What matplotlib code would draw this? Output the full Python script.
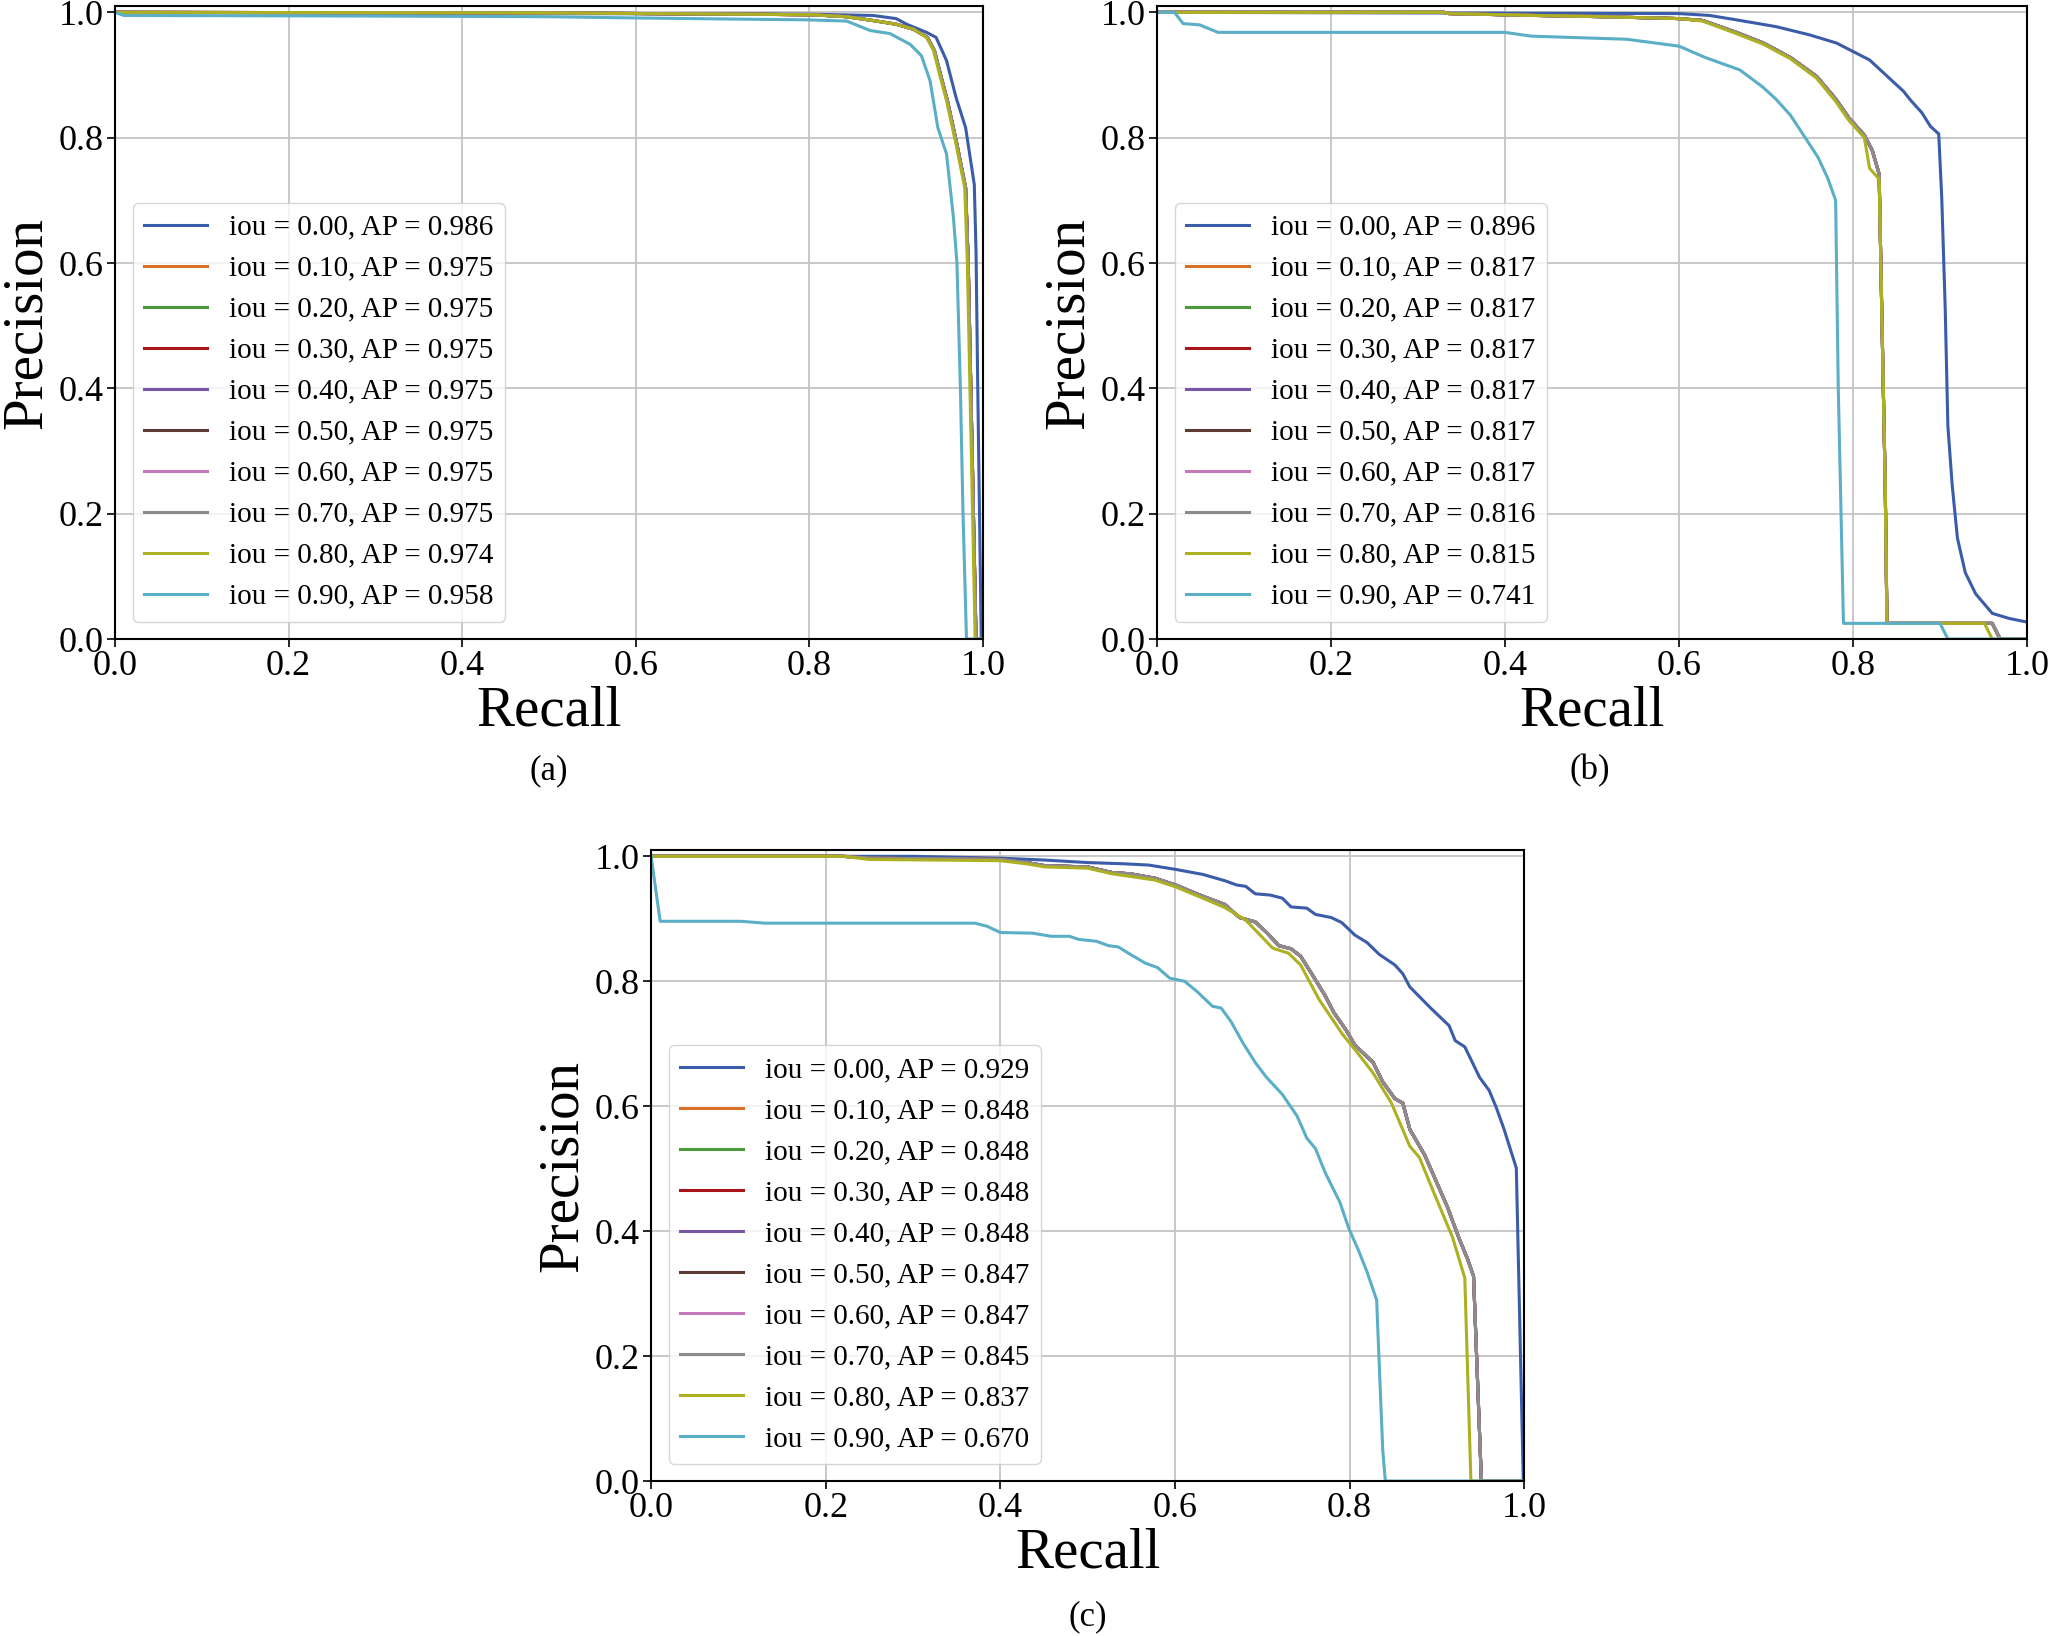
import numpy as np
import matplotlib
matplotlib.use("Agg")
import matplotlib.pyplot as plt

plt.rcParams['font.family'] = ['Liberation Serif', 'DejaVu Serif']

iou_levels = [0.00, 0.10, 0.20, 0.30, 0.40, 0.50, 0.60, 0.70, 0.80, 0.90]
colors = ['#3b5ca8', '#d9702a', '#4c9a3c', '#a8161c', '#7856a8',
          '#5e3b32', '#c478b8', '#8c8c8c', '#adb021', '#5aaec6']

ap_a = [0.986, 0.975, 0.975, 0.975, 0.975, 0.975, 0.975, 0.975, 0.974, 0.958]
ap_b = [0.896, 0.817, 0.817, 0.817, 0.817, 0.817, 0.817, 0.816, 0.815, 0.741]
ap_c = [0.929, 0.848, 0.848, 0.848, 0.848, 0.847, 0.847, 0.845, 0.837, 0.670]

# ---- panel (a) ----
a_blue_r = [0.0, 0.5, 0.8, 0.873, 0.9, 0.912, 0.935, 0.946, 0.958, 0.969, 0.980, 0.990, 0.992, 0.994, 0.996, 0.998, 1.0]
a_blue_p = [1.0, 0.998, 0.997, 0.995, 0.99, 0.981, 0.968, 0.960, 0.923, 0.864, 0.816, 0.725, 0.619, 0.4, 0.2, 0.0, 0.0]
a_mid_r = [0.0, 0.5, 0.728, 0.805, 0.843, 0.873, 0.900, 0.920, 0.936, 0.944, 0.951, 0.959, 0.970, 0.980, 0.983, 0.986, 0.989, 0.992, 1.0]
a_mid_p = [1.0, 0.999, 0.997, 0.996, 0.993, 0.987, 0.981, 0.973, 0.960, 0.939, 0.901, 0.859, 0.789, 0.72, 0.6, 0.4, 0.2, 0.0, 0.0]
a_yel_r = [0.0, 0.5, 0.728, 0.805, 0.843, 0.873, 0.900, 0.920, 0.935, 0.943, 0.950, 0.958, 0.969, 0.979, 0.982, 0.985, 0.988, 0.991, 1.0]
a_yel_p = [1.0, 0.999, 0.997, 0.996, 0.993, 0.987, 0.981, 0.973, 0.960, 0.939, 0.901, 0.859, 0.789, 0.72, 0.6, 0.4, 0.2, 0.0, 0.0]
a_cyan_r = [0.0, 0.01, 0.3, 0.5, 0.6, 0.728, 0.797, 0.843, 0.870, 0.893, 0.916, 0.929, 0.939, 0.948, 0.958, 0.966, 0.970, 0.974, 0.977, 0.981, 1.0]
a_cyan_p = [1.0, 0.995, 0.994, 0.993, 0.991, 0.989, 0.988, 0.986, 0.971, 0.966, 0.949, 0.931, 0.891, 0.816, 0.774, 0.672, 0.6, 0.4, 0.2, 0.0, 0.0]

# ---- panel (b) ----
b_blue_r = [0.0, 0.6, 0.635, 0.666, 0.712, 0.750, 0.781, 0.819, 0.858, 0.866, 0.879, 0.889, 0.8985, 0.902, 0.906, 0.909, 0.914, 0.920, 0.929, 0.941, 0.960, 0.979, 1.0]
b_blue_p = [1.0, 0.998, 0.995, 0.988, 0.977, 0.964, 0.951, 0.924, 0.874, 0.86, 0.84, 0.818, 0.806, 0.703, 0.525, 0.34, 0.245, 0.161, 0.106, 0.072, 0.041, 0.033, 0.027]
b_mid_r = [0.0, 0.33, 0.335, 0.435, 0.512, 0.6, 0.627, 0.666, 0.697, 0.728, 0.758, 0.780, 0.795, 0.813, 0.822, 0.830, 0.833, 0.837, 0.839, 0.960, 0.969, 1.0]
b_mid_p = [1.0, 1.0, 0.998, 0.995, 0.993, 0.99, 0.987, 0.968, 0.951, 0.928, 0.898, 0.862, 0.832, 0.804, 0.78, 0.742, 0.525, 0.245, 0.025, 0.025, 0.0, 0.0]
b_yel_r = [0.0, 0.33, 0.335, 0.435, 0.512, 0.6, 0.627, 0.666, 0.697, 0.728, 0.758, 0.780, 0.795, 0.813, 0.819, 0.830, 0.833, 0.837, 0.839, 0.951, 0.960, 1.0]
b_yel_p = [1.0, 1.0, 0.998, 0.995, 0.993, 0.99, 0.986, 0.966, 0.949, 0.926, 0.895, 0.858, 0.828, 0.80, 0.751, 0.734, 0.525, 0.245, 0.025, 0.025, 0.0, 0.0]
b_cyan_r = [0.0, 0.02, 0.03, 0.049, 0.07, 0.4, 0.43, 0.54, 0.6, 0.63, 0.67, 0.696, 0.711, 0.728, 0.745, 0.760, 0.771, 0.780, 0.783, 0.789, 0.900, 0.909, 1.0]
b_cyan_p = [1.0, 1.0, 0.982, 0.98, 0.968, 0.968, 0.962, 0.957, 0.946, 0.928, 0.908, 0.881, 0.862, 0.836, 0.80, 0.768, 0.735, 0.70, 0.402, 0.025, 0.025, 0.0, 0.0]

# ---- panel (c) ----
c_blue_r = [0.0, 0.3, 0.4, 0.451, 0.5, 0.542, 0.57, 0.601, 0.632, 0.657, 0.671, 0.681, 0.692, 0.709, 0.723, 0.733, 0.751, 0.761, 0.779, 0.791, 0.806, 0.820, 0.834, 0.852, 0.861, 0.869, 0.893, 0.914, 0.921, 0.932, 0.949, 0.960, 0.968, 0.977, 0.991, 0.999, 1.0]
c_blue_p = [1.0, 1.0, 0.997, 0.994, 0.99, 0.988, 0.986, 0.979, 0.971, 0.961, 0.954, 0.952, 0.94, 0.938, 0.933, 0.919, 0.917, 0.907, 0.902, 0.894, 0.874, 0.862, 0.843, 0.826, 0.812, 0.791, 0.757, 0.729, 0.705, 0.695, 0.646, 0.625, 0.598, 0.563, 0.501, 0.0, 0.0]
c_mid_r = [0.0, 0.22, 0.25, 0.4, 0.43, 0.451, 0.5, 0.528, 0.549, 0.577, 0.601, 0.632, 0.657, 0.674, 0.692, 0.705, 0.719, 0.733, 0.744, 0.758, 0.772, 0.782, 0.796, 0.806, 0.827, 0.838, 0.852, 0.861, 0.869, 0.886, 0.897, 0.912, 0.925, 0.935, 0.942, 0.951, 1.0]
c_mid_p = [1.0, 1.0, 0.997, 0.995, 0.99, 0.985, 0.983, 0.974, 0.972, 0.965, 0.954, 0.936, 0.923, 0.902, 0.895, 0.878, 0.857, 0.852, 0.84, 0.809, 0.777, 0.75, 0.722, 0.698, 0.67, 0.639, 0.612, 0.605, 0.563, 0.522, 0.487, 0.439, 0.39, 0.356, 0.328, 0.0, 0.0]
c_yel_r = [0.0, 0.22, 0.25, 0.4, 0.43, 0.451, 0.5, 0.528, 0.577, 0.601, 0.632, 0.657, 0.681, 0.712, 0.730, 0.744, 0.765, 0.792, 0.810, 0.827, 0.848, 0.869, 0.880, 0.897, 0.918, 0.932, 0.939, 1.0]
c_yel_p = [1.0, 1.0, 0.995, 0.993, 0.988, 0.983, 0.981, 0.972, 0.962, 0.951, 0.933, 0.918, 0.898, 0.853, 0.845, 0.826, 0.771, 0.715, 0.684, 0.653, 0.605, 0.536, 0.518, 0.46, 0.39, 0.325, 0.0, 0.0]
c_cyan_r = [0.0, 0.0104, 0.103, 0.13, 0.371, 0.385, 0.4, 0.437, 0.458, 0.479, 0.49, 0.51, 0.524, 0.535, 0.549, 0.566, 0.58, 0.594, 0.611, 0.625, 0.643, 0.653, 0.664, 0.678, 0.692, 0.705, 0.723, 0.74, 0.751, 0.761, 0.772, 0.789, 0.799, 0.81, 0.82, 0.831, 0.838, 0.841, 1.0]
c_cyan_p = [1.0, 0.896, 0.896, 0.893, 0.893, 0.888, 0.878, 0.877, 0.872, 0.872, 0.867, 0.864, 0.857, 0.855, 0.843, 0.829, 0.822, 0.805, 0.80, 0.784, 0.76, 0.757, 0.736, 0.701, 0.67, 0.646, 0.619, 0.584, 0.549, 0.532, 0.494, 0.446, 0.405, 0.37, 0.335, 0.29, 0.05, 0.0, 0.0]

panels = [
    ((a_blue_r, a_blue_p), (a_mid_r, a_mid_p), (a_yel_r, a_yel_p), (a_cyan_r, a_cyan_p), ap_a),
    ((b_blue_r, b_blue_p), (b_mid_r, b_mid_p), (b_yel_r, b_yel_p), (b_cyan_r, b_cyan_p), ap_b),
    ((c_blue_r, c_blue_p), (c_mid_r, c_mid_p), (c_yel_r, c_yel_p), (c_cyan_r, c_cyan_p), ap_c),
]

fig = plt.figure(figsize=(20.5, 16.36), dpi=100)
rects = [[0.0561, 0.6094, 0.4234, 0.3869],
         [0.5644, 0.6094, 0.4244, 0.3869],
         [0.3176, 0.0947, 0.4259, 0.3857]]
tags = ['(a)', '(b)', '(c)']
tag_pos = [(549, 771), (1590, 771), (1088, 1617)]

for k, (blue, mid, yel, cyan, aps) in enumerate(panels):
    ax = fig.add_axes(rects[k])
    for i, iou in enumerate(iou_levels):
        if i == 0:
            r, p = blue
        elif i == 8:
            r, p = yel
        elif i == 9:
            r, p = cyan
        else:
            r, p = mid
        ax.plot(r, p, color=colors[i], lw=2.2,
                label='iou = %.2f, AP = %.3f' % (iou, aps[i]))
    ax.set_xlim(0, 1.0)
    ax.set_ylim(0, 1.01)
    ticks = np.arange(0, 1.01, 0.2)
    ax.set_xticks(ticks)
    ax.set_yticks(ticks)
    ax.set_xticklabels(['%.1f' % t for t in ticks])
    ax.set_yticklabels(['%.1f' % t for t in ticks])
    ax.tick_params(labelsize=26, length=6, width=1.2, pad=2)
    ax.grid(True, color='#c4c4c4', lw=1.3)
    for s in ax.spines.values():
        s.set_linewidth(1.5)
    ax.set_xlabel('Recall', fontsize=41, labelpad=2)
    ax.set_ylabel('Precision', fontsize=41, labelpad=4)
    ax.legend(loc='lower left', fontsize=21, handlelength=2.15,
              handletextpad=0.75, labelspacing=0.5, borderaxespad=0.6)
    x, y = tag_pos[k]
    fig.text(x / 2050, 1 - y / 1636, tags[k], fontsize=25, ha='center', va='center')

fig.savefig('out.png', dpi=100)
